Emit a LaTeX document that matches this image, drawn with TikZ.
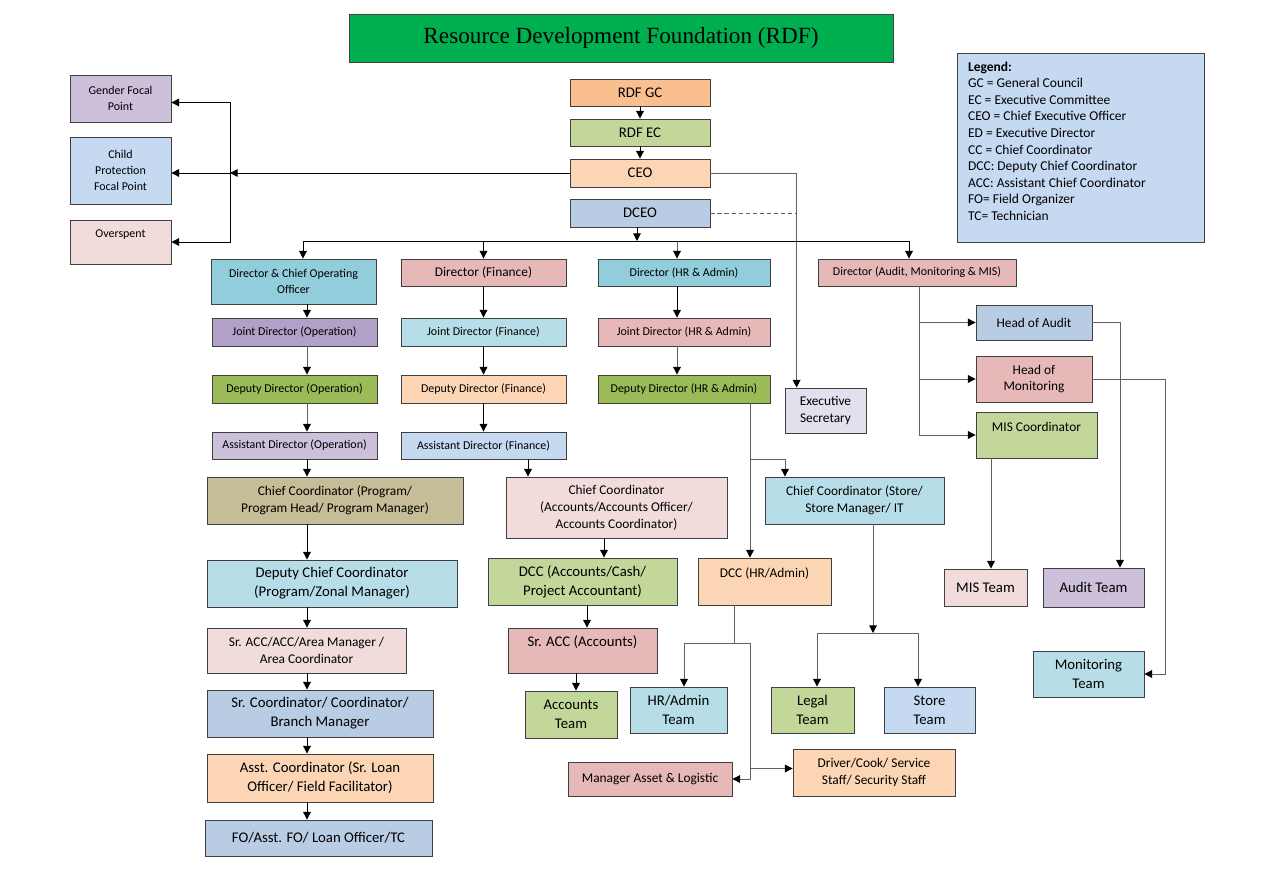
\documentclass[tikz,border=0pt]{standalone}
\usepackage{fontspec}
\setmainfont{Carlito}
\newfontfamily\titlefont{Liberation Serif}
\usetikzlibrary{arrows.meta}
\definecolor{hdrgreen}{HTML}{00B050}
\definecolor{corange}{HTML}{FABF8F}
\definecolor{cgreen}{HTML}{C4D79B}
\definecolor{cpeach}{HTML}{FCD5B4}
\definecolor{cblue}{HTML}{B8CCE4}
\definecolor{clav}{HTML}{CCC0DA}
\definecolor{cltblue}{HTML}{C5D9F1}
\definecolor{cpink}{HTML}{F2DCDB}
\definecolor{cteal}{HTML}{92CDDC}
\definecolor{crose}{HTML}{E6B8B7}
\definecolor{cpurple}{HTML}{B1A0C7}
\definecolor{colive}{HTML}{9BBB59}
\definecolor{caqua}{HTML}{B7DEE8}
\definecolor{ctan}{HTML}{C4BD97}
\definecolor{clilac}{HTML}{E4DFEC}
\begin{document}
\begin{tikzpicture}[x=0.025cm, y=-0.025cm,
  box/.style={draw=black!75, line width=0.6pt, align=center, inner sep=1pt},
  sz/.style 2 args={minimum width=#1*0.025cm, minimum height=#2*0.025cm},
  fs/.style={font=\fontsize{8.5}{11.5}\selectfont},
  fm/.style={font=\fontsize{9.5}{12}\selectfont},
  fl/.style={font=\fontsize{10.5}{13.5}\selectfont},
  link/.style={line width=0.7pt},
  glink/.style={line width=0.7pt, draw=black!62},
  arr/.style={link, -{Triangle[length=5.5pt,width=5.5pt]}},
  garr/.style={glink, -{Triangle[length=5.5pt,width=5.5pt,color=black]}}]
\useasboundingbox (0,0) rectangle (1262,892);

\node[box, fill=hdrgreen, sz={544}{48}, font=\titlefont\fontsize{16.5}{19}\selectfont] (title) at (621,38) {Resource Development Foundation (RDF)};

\node[box, fill=cltblue, sz={247}{189}] (legend) at (1080.5,147.5) {};
\node[anchor=north west, align=left, inner sep=0pt, font=\fontsize{9.6}{11.8}\selectfont] (legendtext) at ([xshift=0.28cm,yshift=-0.22cm]legend.north west)
  {\textbf{Legend:}\\GC = General Council\\EC = Executive Committee\\CEO = Chief Executive Officer\\ED = Executive Director\\CC = Chief Coordinator\\DCC: Deputy Chief Coordinator\\ACC: Assistant Chief Coordinator\\FO= Field Organizer\\TC= Technician};

\node[box, fl, fill=corange, sz={140}{27}] (gc) at (640,92.5) {RDF GC};
\node[box, fl, fill=cgreen, sz={140}{27}] (ec) at (640,132.5) {RDF EC};
\node[box, fl, fill=cpeach, sz={140}{28}] (ceo) at (640,173) {CEO};
\node[box, fl, fill=cblue, sz={140}{28}] (dceo) at (640,213) {DCEO};

\node[box, fs, fill=clav, sz={101}{47}] (gender) at (120.5,98.5) {Gender Focal\\Point};
\node[box, fs, fill=cltblue, sz={101}{67}] (child) at (120.5,170.5) {Child\\Protection\\Focal Point};
\node[box, fs, fill=cpink, sz={101}{44}] (overspent) at (120.5,242) {Overspent\\\phantom{O}};

\node[box, fs, fill=cteal, sz={165}{45}] (coo) at (293.5,281.5) {Director \& Chief Operating\\Officer};
\node[box, fm, fill=crose, sz={165}{27}] (dirfin) at (483.5,272.5) {Director (Finance)};
\node[box, fs, fill=cteal, sz={172}{27}] (dirhr) at (684,272.5) {Director (HR \& Admin)};
\node[box, fs, fill=crose, sz={198}{27}] (diraudit) at (917,272.5) {Director (Audit, Monitoring \& MIS)};

\node[box, fs, fill=cpurple, sz={165}{28}] (jdop) at (294.5,332) {Joint Director (Operation)};
\node[box, fs, fill=colive, sz={165}{28}] (ddop) at (294.5,389) {Deputy Director (Operation)};
\node[box, fs, fill=clav, sz={165}{27}] (adop) at (294.5,445.5) {Assistant Director (Operation)};

\node[box, fs, fill=caqua, sz={165}{28}] (jdfin) at (483.5,332) {Joint Director (Finance)};
\node[box, fs, fill=cpeach, sz={165}{28}] (ddfin) at (483.5,389) {Deputy Director (Finance)};
\node[box, fs, fill=cltblue, sz={165}{27}] (adfin) at (483.5,445.5) {Assistant Director (Finance)};

\node[box, fs, fill=crose, sz={172}{28}] (jdhr) at (684,332) {Joint Director (HR \& Admin)};
\node[box, fs, fill=colive, sz={172}{28}] (ddhr) at (684,389) {Deputy Director (HR \& Admin)};
\node[box, fm, fill=clilac, sz={81}{45}] (execsec) at (825.5,410.5) {Executive\\Secretary};

\node[box, fm, fill=cblue, sz={116}{35}] (headaudit) at (1034,322.5) {Head of Audit};
\node[box, fm, fill=crose, sz={116}{46}] (headmon) at (1034,379) {Head of\\Monitoring};
\node[box, fm, fill=cgreen, sz={121}{46}] (miscoord) at (1036.5,435) {MIS Coordinator\\\phantom{O}};
\node[box, fl, fill=cpink, sz={83}{37}] (misteam) at (985.5,587.5) {MIS Team};
\node[box, fl, fill=clav, sz={101}{39}] (auditteam) at (1093.5,587.5) {Audit Team};
\node[box, fl, fill=caqua, sz={111}{46}] (monteam) at (1088.5,674) {Monitoring\\Team};

\node[box, fm, fill=ctan, sz={256}{47}] (ccprog) at (335,500.5) {Chief Coordinator (Program/\\Program Head/ Program Manager)};
\node[box, fl, fill=caqua, sz={250}{47}] (dccprog) at (332,583.5) {Deputy Chief Coordinator\\(Program/Zonal Manager)};
\node[box, fm, fill=cpink, sz={199}{45}] (sracc) at (306.5,650.5) {Sr. ACC/ACC/Area Manager /\\Area Coordinator};
\node[box, fl, fill=cblue, sz={226}{47}] (srcoord) at (320,713.5) {Sr. Coordinator/ Coordinator/\\Branch Manager};
\node[box, fl, fill=cpeach, sz={226}{48}] (asstcoord) at (320,778) {Asst. Coordinator (Sr. Loan\\Officer/ Field Facilitator)};
\node[box, fl, fill=cblue, sz={227}{36}] (fo) at (318.5,838) {FO/Asst. FO/ Loan Officer/TC};

\node[box, fm, fill=cpink, sz={221}{61}] (ccacc) at (616.5,507.5) {Chief Coordinator\\(Accounts/Accounts Officer/\\Accounts Coordinator)};
\node[box, fl, fill=cgreen, sz={189}{47}] (dccacc) at (582.5,581.5) {DCC (Accounts/Cash/\\Project Accountant)};
\node[box, fl, fill=crose, sz={149}{45}] (sraccacc) at (582.5,650.5) {Sr. ACC (Accounts)\\\phantom{O}};
\node[box, fl, fill=cgreen, sz={92}{47}] (accteam) at (571,714.5) {Accounts\\Team};

\node[box, fm, fill=cpeach, sz={133}{47}] (dcchr) at (764.5,581.5) {DCC (HR/Admin)\\\phantom{O}};
\node[box, fl, fill=caqua, sz={97}{46}] (hrteam) at (678.5,710) {HR/Admin\\Team};
\node[box, fm, fill=crose, sz={164}{34}] (mgrasset) at (650,779) {Manager Asset \& Logistic};
\node[box, fm, fill=cpeach, sz={162}{47}] (driver) at (874,772.5) {Driver/Cook/ Service\\Staff/ Security Staff};
\node[box, fm, fill=caqua, sz={179}{47}] (ccstore) at (854.5,500.5) {Chief Coordinator (Store/\\Store Manager/ IT};
\node[box, fl, fill=cgreen, sz={83}{46}] (legal) at (812.5,710) {Legal\\Team};
\node[box, fl, fill=cltblue, sz={91}{46}] (store) at (929.5,710) {Store\\Team};

\draw[arr] (gc) -- (ec);
\draw[arr] (ec) -- (ceo);

\coordinate (cpt) at (230,173);
\draw[arr] (ceo.west) -- (cpt);
\draw[arr] (cpt) |- ([yshift=-0.1cm]gender.east);
\draw[arr] (cpt) -- (cpt -| child.east);
\draw[arr] (cpt) |- (overspent.east);

\coordinate (secx) at ([xshift=0.3cm]execsec.north west);
\draw[garr] (ceo.east) -| (secx);
\draw[glink, dash pattern=on 3pt off 2pt] (dceo.east) -- (dceo.east -| secx);

\coordinate (bus) at (637,241);
\coordinate (busl) at (303,241);
\coordinate (busr) at (909,241);
\coordinate (bushr) at (677,241);
\draw[arr] (dceo.south -| bus) -- (bus);
\draw[link] (busl) -- (busr);
\draw[arr] (busl) -- (busl |- coo.north);
\draw[arr] (dirfin.north |- bus) -- (dirfin.north);
\draw[garr] (bushr) -- (bushr |- dirhr.north);
\draw[arr] (busr) -- (busr |- diraudit.north);

\coordinate (opx) at (307,0);
\draw[arr] (coo.south -| opx) -- (jdop.north -| opx);
\draw[garr] (jdop.south -| opx) -- (ddop.north -| opx);
\draw[garr] (ddop.south -| opx) -- (adop.north -| opx);
\draw[arr] (adop.south -| opx) -- (ccprog.north -| opx);
\draw[arr] (ccprog.south -| opx) -- (dccprog.north -| opx);
\draw[arr] (dccprog.south -| opx) -- (sracc.north -| opx);
\draw[arr] (sracc.south -| opx) -- (srcoord.north -| opx);
\draw[arr] (srcoord.south -| opx) -- (asstcoord.north -| opx);
\draw[arr] (asstcoord.south -| opx) -- (fo.north -| opx);

\draw[arr] (dirfin) -- (jdfin);
\draw[arr] (jdfin) -- (ddfin);
\draw[arr] (ddfin) -- (adfin);
\coordinate (accx) at (528,0);
\coordinate (acctwo) at (604,0);
\coordinate (accthree) at (587,0);
\coordinate (accfour) at (576,0);
\draw[arr] (adfin.south -| accx) -- (ccacc.north -| accx);
\draw[arr] (ccacc.south -| acctwo) -- (dccacc.north -| acctwo);
\draw[arr] (dccacc.south -| accthree) -- (sraccacc.north -| accthree);
\draw[arr] (sraccacc.south -| accfour) -- (accteam.north -| accfour);

\coordinate (hrx) at (677,0);
\draw[arr] (dirhr.south -| hrx) -- (jdhr.north -| hrx);
\draw[garr] (jdhr.south -| hrx) -- (ddhr.north -| hrx);
\coordinate (hrd) at (750,0);
\coordinate (hrsplit) at (750,459);
\coordinate (storex) at (785,0);
\draw[garr] (ddhr.south -| hrd) -- (dcchr.north -| hrd);
\draw[garr] (hrsplit) -| (ccstore.north -| storex);

\coordinate (dccx) at (734,643);
\coordinate (dccl) at (684,643);
\coordinate (dccr) at (750,643);
\coordinate (drvin) at ([yshift=0.1cm]driver.west);
\draw[glink] (dcchr.south -| dccx) -- (dccx);
\draw[glink] (dccl) -- (dccr);
\draw[garr] (dccl) -- (dccl |- hrteam.north);
\draw[garr] (dccr) |- (mgrasset.east);
\draw[garr] (dccr |- drvin) -- (drvin);

\coordinate (stsplit) at (873,633);
\coordinate (stl) at (817,633);
\coordinate (str) at (918,633);
\draw[garr] (ccstore.south -| stsplit) -- (stsplit);
\draw[glink] (stl) -- (str);
\draw[garr] (stl) -- (stl |- legal.north);
\draw[garr] (str) -- (str |- store.north);

\coordinate (audx) at (919,0);
\draw[glink] (diraudit.south -| audx) -- (audx |- miscoord.west);
\draw[garr] (audx |- headaudit.west) -- (headaudit.west);
\draw[garr] (audx |- headmon.west) -- (headmon.west);
\draw[garr] (audx |- miscoord.west) -- (miscoord.west);
\coordinate (atx) at (1120,0);
\coordinate (mtx) at (1165,0);
\coordinate (misx) at (991,0);
\draw[garr] (headaudit.east) -| (auditteam.north -| atx);
\draw[garr] (headmon.east) -| (mtx |- monteam.east) -- (monteam.east);
\draw[garr] (miscoord.south -| misx) -- (misteam.north -| misx);
\end{tikzpicture}
\end{document}
